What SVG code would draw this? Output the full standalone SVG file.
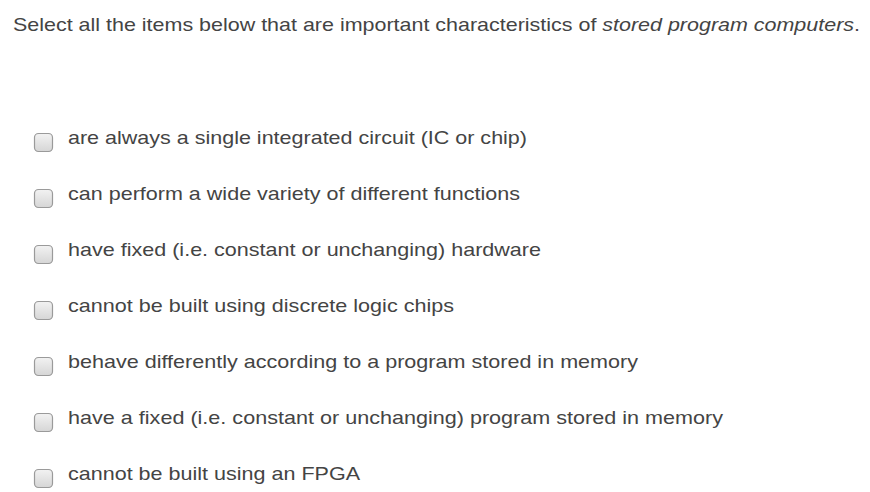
<svg xmlns="http://www.w3.org/2000/svg" width="870" height="492" viewBox="0 0 870 492">
<defs>
<linearGradient id="g" x1="0" y1="0" x2="0" y2="1"><stop offset="0" stop-color="#f2f2f2"/><stop offset="1" stop-color="#d6d6d6"/></linearGradient>
<style>
text{font-family:"Liberation Sans",Arial,sans-serif;fill:#444;font-size:19px}
.cb{fill:url(#g);stroke:#9a9a9a;stroke-width:1.2}
</style>
</defs>
<rect width="870" height="492" fill="#fff"/>
<text x="13" y="31" textLength="847" lengthAdjust="spacingAndGlyphs">Select all the items below that are important characteristics of <tspan font-style="italic">stored program computers</tspan>.</text>
<g id="o1"><rect class="cb" x="34.5" y="133.5" width="18" height="18" rx="4"/><text x="68" y="144" textLength="459" lengthAdjust="spacingAndGlyphs">are always a single integrated circuit (IC or chip)</text></g>
<g id="o2"><rect class="cb" x="34.5" y="189.5" width="18" height="18" rx="4"/><text x="68" y="200" textLength="452" lengthAdjust="spacingAndGlyphs">can perform a wide variety of different functions</text></g>
<g id="o3"><rect class="cb" x="34.5" y="245.5" width="18" height="18" rx="4"/><text x="68" y="256" textLength="473" lengthAdjust="spacingAndGlyphs">have fixed (i.e. constant or unchanging) hardware</text></g>
<g id="o4"><rect class="cb" x="34.5" y="301.5" width="18" height="18" rx="4"/><text x="68" y="312" textLength="386" lengthAdjust="spacingAndGlyphs">cannot be built using discrete logic chips</text></g>
<g id="o5"><rect class="cb" x="34.5" y="357.5" width="18" height="18" rx="4"/><text x="68" y="368" textLength="570" lengthAdjust="spacingAndGlyphs">behave differently according to a program stored in memory</text></g>
<g id="o6"><rect class="cb" x="34.5" y="413.5" width="18" height="18" rx="4"/><text x="68" y="424" textLength="655" lengthAdjust="spacingAndGlyphs">have a fixed (i.e. constant or unchanging) program stored in memory</text></g>
<g id="o7"><rect class="cb" x="34.5" y="469.5" width="18" height="18" rx="4"/><text x="68" y="480" textLength="292" lengthAdjust="spacingAndGlyphs">cannot be built using an FPGA</text></g>
</svg>
